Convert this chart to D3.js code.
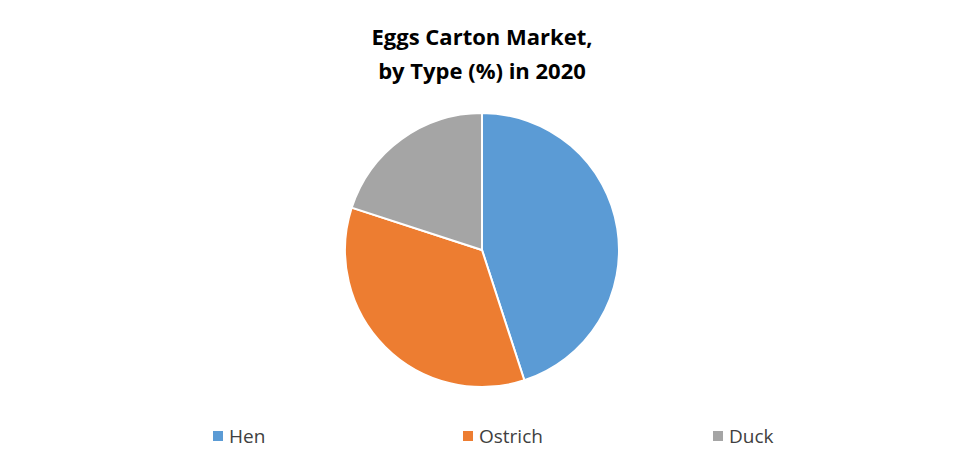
<!DOCTYPE html>
<html>
<head>
<meta charset="utf-8">
<script src="https://cdn.jsdelivr.net/npm/d3@7"></script>
<style>
  body { margin: 0; background: #fff; }
  text { font-family: "Open Sans", sans-serif; }
</style>
</head>
<body>
<svg id="chart"></svg>
<script>
const categories = ["Hen", "Ostrich", "Duck"];
const shares = [45, 35, 20];
const colors = ["#5B9BD5", "#ED7D31", "#A5A5A5"];

const width = 965, height = 466;
const svg = d3.select("#chart").attr("width", width).attr("height", height);

// title
const title = svg.append("text")
  .attr("text-anchor", "middle")
  .attr("font-weight", "bold")
  .attr("font-size", 22)
  .attr("fill", "#000");
title.append("tspan").attr("x", 482).attr("y", 45).text("Eggs Carton Market,");
title.append("tspan").attr("x", 482).attr("y", 79).text("by Type (%) in 2020");

// pie
const pie = d3.pie().sort(null).value(d => d);
const arc = d3.arc().innerRadius(0).outerRadius(137);
svg.append("g")
  .attr("transform", "translate(482,250)")
  .selectAll("path")
  .data(pie(shares))
  .join("path")
  .attr("d", arc)
  .attr("fill", (d, i) => colors[i])
  .attr("stroke", "#fff")
  .attr("stroke-width", 2);

// legend
const legendX = d3.scalePoint().domain(categories).range([213, 713]);
const legend = svg.append("g").selectAll("g")
  .data(categories)
  .join("g")
  .attr("transform", d => `translate(${legendX(d)},436)`);
legend.append("rect")
  .attr("x", 0).attr("y", -5).attr("width", 10).attr("height", 10)
  .attr("fill", (d, i) => colors[i]);
legend.append("text")
  .attr("x", 16).attr("y", 7)
  .attr("font-size", 19)
  .attr("fill", "#404040")
  .text(d => d);
</script>
</body>
</html>
